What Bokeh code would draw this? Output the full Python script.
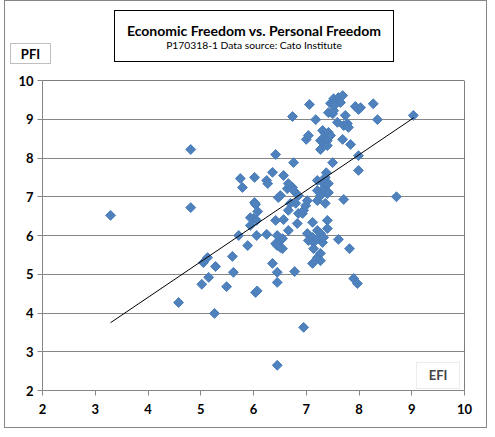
from bokeh.plotting import figure
from bokeh.layouts import column
from bokeh.models import BoxAnnotation, Label, Span, FixedTicker, Div
from bokeh.embed import file_html
from bokeh.resources import INLINE
import numpy as np

# Economic Freedom Index (x) vs Personal Freedom Index (y)
efi = [3.29, 4.58, 4.81, 4.81, 5.02, 5.05, 5.13, 5.15, 5.26, 5.28,
       5.49, 5.60, 5.62, 5.72, 5.75, 5.79, 5.89, 5.94, 5.94, 6.00,
       6.02, 6.02, 6.04, 6.04, 6.07, 6.06, 6.06, 6.08, 6.25, 6.27,
       6.25, 6.36, 6.36, 6.42, 6.42, 6.42, 6.45, 6.45, 6.45, 6.45,
       6.45, 6.47, 6.51, 6.51, 6.51, 6.55, 6.55, 6.57, 6.57, 6.64,
       6.66, 6.66, 6.66, 6.70, 6.74, 6.74, 6.76, 6.76, 6.78, 6.80,
       6.83, 6.85, 6.85, 6.93, 6.95, 6.95, 6.99, 7.00, 7.02, 7.02,
       7.04, 7.04, 7.06, 7.12, 7.12, 7.12, 7.14, 7.14, 7.18, 7.21,
       7.21, 7.21, 7.21, 7.21, 7.21, 7.27, 7.27, 7.27, 7.27, 7.27,
       7.27, 7.31, 7.31, 7.33, 7.33, 7.33, 7.33, 7.33, 7.36, 7.38,
       7.36, 7.36, 7.36, 7.40, 7.40, 7.40, 7.40, 7.40, 7.42, 7.42,
       7.42, 7.42, 7.46, 7.46, 7.50, 7.50, 7.52, 7.52, 7.55, 7.59,
       7.61, 7.61, 7.65, 7.69, 7.69, 7.71, 7.71, 7.74, 7.78, 7.80,
       7.82, 7.84, 7.90, 7.93, 7.97, 7.99, 7.99, 7.99, 8.03, 8.27,
       8.35, 8.71, 9.03]
pfi = [6.52, 4.27, 8.22, 6.72, 4.74, 5.30, 5.43, 4.92, 3.99, 5.20,
       4.68, 5.46, 5.05, 6.00, 7.47, 7.24, 5.74, 6.46, 6.26, 6.44,
       7.50, 6.85, 6.80, 4.53, 4.57, 6.39, 6.00, 6.62, 7.42, 7.34,
       6.03, 7.63, 5.28, 8.09, 6.39, 5.79, 6.00, 5.74, 5.05, 4.79,
       2.65, 6.98, 7.03, 5.87, 5.69, 5.66, 5.92, 7.55, 6.41, 7.21,
       6.13, 6.65, 7.34, 6.83, 7.24, 9.07, 7.88, 7.16, 5.07, 6.83,
       6.31, 7.03, 6.57, 6.57, 6.65, 3.63, 6.77, 8.48, 6.90, 6.05,
       8.58, 5.87, 9.38, 6.34, 5.95, 5.28, 5.82, 5.66, 8.99, 7.42,
       7.16, 6.90, 6.13, 5.92, 5.43, 8.22, 8.45, 7.03, 6.05, 5.54,
       5.35, 8.71, 5.82, 8.53, 8.40, 7.34, 7.21, 5.95, 8.63, 7.62,
       7.50, 7.37, 6.83, 8.45, 8.32, 7.08, 6.39, 6.18, 9.17, 8.66,
       7.34, 7.11, 9.41, 8.58, 9.14, 7.88, 9.53, 9.22, 9.38, 8.92,
       9.56, 5.90, 9.43, 9.61, 8.48, 8.84, 6.93, 9.10, 8.89, 8.79,
       5.66, 8.35, 4.89, 9.33, 4.76, 9.25, 8.06, 7.68, 9.30, 9.40,
       8.99, 7.00, 9.10]

# linear trend line end points
trend_x = [3.29, 9.04]
trend_y = [3.75, 9.04]

ticks = [2, 3, 4, 5, 6, 7, 8, 9, 10]

title = "Economic Freedom vs. Personal Freedom"
subtitle = "P170318-1 Data source: Cato Institute"

FONT = "Lato"
GREY = "#868686"

# header: title box and the PFI axis name box
header = Div(width=481, height=70, margin=0, text=f"""
<div style="position:relative;width:481px;height:70px;font-family:{FONT};">
  <div style="position:absolute;left:109px;top:9px;width:280px;height:52px;
              border:1px solid black;text-align:center;">
    <div style="font-weight:bold;font-size:14px;margin-top:12px;line-height:16px;">{title}</div>
    <div style="font-size:10.3px;line-height:13px;">{subtitle}</div>
  </div>
  <div style="position:absolute;left:5px;top:42px;width:41px;height:21px;
              border:1px solid #BFBFBF;text-align:center;font-weight:bold;
              font-size:13px;line-height:21px;">PFI</div>
</div>""")

p = figure(width=481, height=356, x_range=(2, 10), y_range=(2, 10),
           output_backend="svg", toolbar_location=None, margin=0,
           min_border_left=37, min_border_right=22,
           min_border_top=9, min_border_bottom=37)
p.outline_line_color = None
p.background_fill_color = "white"

p.xgrid.grid_line_color = None
p.ygrid.grid_line_color = GREY
p.ygrid.grid_line_width = 1

for ax in (p.xaxis[0], p.yaxis[0]):
    ax.ticker = FixedTicker(ticks=ticks)
    ax.axis_line_color = GREY
    ax.major_tick_line_color = GREY
    ax.major_tick_out = 5
    ax.major_tick_in = 0
    ax.minor_tick_line_color = None
    ax.major_label_text_font = FONT
    ax.major_label_text_font_style = "bold"
    ax.major_label_text_font_size = "13px"
    ax.major_label_text_color = "black"
p.xaxis.major_label_standoff = 8
p.yaxis.major_label_standoff = 4

# black plot-area border on top and right
p.add_layout(Span(location=10, dimension="width", line_color="black", line_width=1))
p.add_layout(Span(location=10, dimension="height", line_color="black", line_width=1))

p.scatter(efi, pfi, marker="square", angle=np.pi / 4, size=7,
          fill_color="#4F81BD", line_color="#4A7EBB", line_width=1)

p.line(trend_x, trend_y, line_color="black", line_width=1)

# EFI axis name box
p.add_layout(BoxAnnotation(left=9.09, right=9.905, top=2.723, bottom=2.052,
                           fill_color="white", fill_alpha=1,
                           line_color="#BFBFBF", line_width=1))
p.add_layout(Label(x=9.498, y=2.39, text="EFI", text_font=FONT,
                   text_font_style="bold", text_font_size="13px",
                   text_align="center", text_baseline="middle"))

layout = column(header, p, spacing=0, margin=(0, 0, 0, 4),
                styles={"border": "1px solid #868686", "background": "white"})

open("out.html", "w").write(file_html(layout, INLINE))
